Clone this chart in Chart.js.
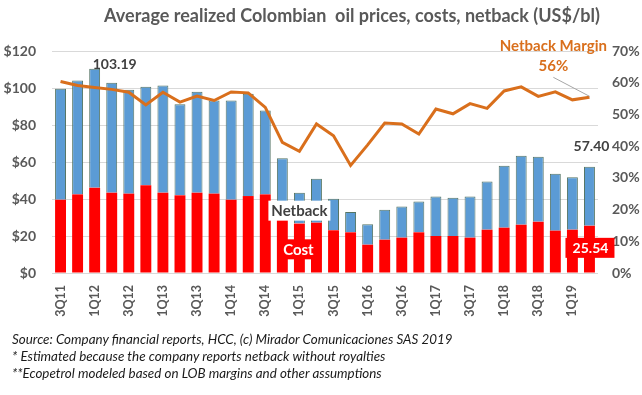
<!DOCTYPE html>
<html>
<head>
<meta charset="utf-8">
<script src="https://cdn.jsdelivr.net/npm/chart.js@4"></script>
<style>
  html, body { margin: 0; padding: 0; background: #fff; }
  #wrap { position: relative; width: 642px; height: 395px; }
  #notes {
    position: absolute; left: 12px; top: 331px;
    font: italic 13.4px Lato, sans-serif; color: #1a1a1a; line-height: 17px;
  }
</style>
</head>
<body>
<div id="wrap">
  <canvas id="chart" width="642" height="395"></canvas>
  <div id="notes">
    Source: Company financial reports, HCC, (c) Mirador Comunicaciones SAS 2019<br>
    * Estimated because the company reports netback without royalties<br>
    **Ecopetrol modeled based on LOB margins and other assumptions
  </div>
</div>
<script>
const quarters = [
  '3Q11', '4Q11', '1Q12', '2Q12', '3Q12', '4Q12', '1Q13', '2Q13',
  '3Q13', '4Q13', '1Q14', '2Q14', '3Q14', '4Q14', '1Q15', '2Q15',
  '3Q15', '4Q15', '1Q16', '2Q16', '3Q16', '4Q16', '1Q17', '2Q17',
  '3Q17', '4Q17', '1Q18', '2Q18', '3Q18', '4Q18', '1Q19', '2Q19'
];
// US$/bl, red part of the bars
const cost = [
  39.6, 42.5, 46.1, 43.4, 42.9, 47.4, 43.4, 42.0,
  43.4, 42.9, 39.6, 41.6, 42.5, 36.5, 26.7, 27.2,
  23.1, 22.0, 15.3, 18.0, 19.1, 22.0, 20.0, 20.0,
  19.1, 23.4, 24.5, 26.1, 27.7, 22.9, 23.4, 25.54
];
// US$/bl, blue part stacked on cost
const netback = [
  60.0, 61.5, 64.3, 59.5, 56.2, 53.3, 57.9, 49.2,
  54.6, 50.4, 53.6, 55.3, 45.4, 25.5, 16.7, 23.8,
  17.1, 11.0, 11.0, 16.2, 16.9, 16.6, 21.4, 20.7,
  22.3, 26.0, 33.5, 37.3, 35.2, 30.8, 28.3, 31.86
];
// % netback margin, right axis
const margin = [
  60.4, 59.1, 58.5, 57.9, 57.0, 53.0, 57.0, 53.9,
  55.8, 54.4, 57.1, 56.8, 52.2, 41.2, 38.4, 47.0,
  43.3, 33.9, 40.4, 47.3, 47.0, 43.8, 51.7, 50.2,
  53.4, 51.9, 57.4, 58.7, 55.7, 57.1, 54.6, 55.4
];
const priceTicks = [0, 20, 40, 60, 80, 100, 120];
const marginTicks = [0, 10, 20, 30, 40, 50, 60, 70];

const FONT = 'Lato, sans-serif';
const GREY = '#595959';
const DARK = '#404040';
const ORANGE = '#D96F1C';
const RED = '#FF0000';

// texts that sit on top of the plot
const labelsPlugin = {
  id: 'labels',
  afterDatasetsDraw(chart) {
    const ctx = chart.ctx;
    const xs = chart.scales.x, ys = chart.scales.y, y1 = chart.scales.y1;
    const last = quarters.length - 1;
    ctx.save();
    ctx.textAlign = 'center';
    ctx.textBaseline = 'middle';

    // title
    ctx.font = 'bold 18px ' + FONT;
    ctx.fillStyle = GREY;
    ctx.fillText('Average realized Colombian  oil prices, costs, netback (US$/bl)', 352, 16);

    // first peak label
    ctx.font = 'bold 14px ' + FONT;
    ctx.fillStyle = DARK;
    ctx.fillText('103.19', xs.getPixelForValue(2) + 20, ys.getPixelForValue(cost[2] + netback[2]) - 4);

    // last price label
    ctx.fillText('57.40', xs.getPixelForValue(last) + 2, ys.getPixelForValue(cost[last] + netback[last]) - 20);

    // last cost label in red box
    let cx = xs.getPixelForValue(last), cy = ys.getPixelForValue(13.6);
    ctx.fillStyle = RED;
    ctx.fillRect(cx - 24, cy - 10, 49, 20);
    ctx.fillStyle = '#fff';
    ctx.fillText('25.54', cx + 1, cy + 1);

    // series names
    cx = xs.getPixelForValue(14);
    cy = ys.getPixelForValue(33.7);
    ctx.fillStyle = '#fff';
    ctx.fillRect(cx - 31, cy - 10, 62, 20);
    ctx.fillStyle = DARK;
    ctx.font = 'bold 15px ' + FONT;
    ctx.fillText('Netback', cx, cy + 1);
    cy = ys.getPixelForValue(12.8);
    ctx.fillStyle = RED;
    ctx.fillRect(cx - 22, cy - 10, 44, 20);
    ctx.fillStyle = '#fff';
    ctx.fillText('Cost', cx - 1, cy + 1);

    // margin label and leader line
    const mx = xs.getPixelForValue(29) - 2;
    ctx.strokeStyle = '#a6a6a6';
    ctx.lineWidth = 1;
    ctx.beginPath();
    ctx.moveTo(mx, y1.getPixelForValue(61.7));
    ctx.lineTo(xs.getPixelForValue(last), y1.getPixelForValue(margin[last]) - 1);
    ctx.stroke();
    ctx.fillStyle = ORANGE;
    ctx.font = 'bold 15px ' + FONT;
    ctx.fillText('Netback Margin', mx, y1.getPixelForValue(71.5));
    ctx.fillText('56%', mx, y1.getPixelForValue(65.1));
    ctx.restore();
  }
};

new Chart(document.getElementById('chart'), {
  data: {
    labels: quarters,
    datasets: [
      {
        type: 'line',
        label: 'Netback Margin',
        data: margin,
        yAxisID: 'y1',
        borderColor: ORANGE,
        borderWidth: 3,
        pointRadius: 0,
        tension: 0,
        order: 0
      },
      {
        type: 'bar',
        label: 'Cost',
        data: cost,
        backgroundColor: RED,
        borderWidth: 0,
        stack: 'p',
        categoryPercentage: 0.8,
        barPercentage: 0.8,
        order: 1
      },
      {
        type: 'bar',
        label: 'Netback',
        data: netback,
        backgroundColor: '#5B9BD5',
        borderColor: '#557565',
        borderWidth: 1,
        stack: 'p',
        categoryPercentage: 0.8,
        barPercentage: 0.8,
        order: 1
      }
    ]
  },
  options: {
    responsive: false,
    animation: false,
    layout: { padding: { top: 51, bottom: 62, left: 0, right: 0 } },
    plugins: {
      legend: { display: false },
      tooltip: { enabled: false }
    },
    scales: {
      x: {
        stacked: true,
        grid: { display: false, drawTicks: false },
        border: { display: false },
        afterFit: (s) => { s.height = 60; },
        ticks: {
          autoSkip: false,
          maxRotation: 90,
          minRotation: 90,
          padding: 12,
          color: GREY,
          font: { family: FONT, size: 12.5, weight: 'bold' },
          callback: (v, i) => (i % 2 === 0 ? quarters[i] : '')
        }
      },
      y: {
        stacked: true,
        position: 'left',
        min: priceTicks[0],
        max: priceTicks[priceTicks.length - 1],
        afterFit: (s) => { s.width = 52; },
        afterBuildTicks: (s) => { s.ticks = priceTicks.map(v => ({ value: v })); },
        grid: { color: '#D9D9D9', drawTicks: false },
        border: { display: false },
        ticks: {
          padding: 16,
          color: GREY,
          font: { family: FONT, size: 14, weight: 'bold' },
          callback: (v) => '$' + v
        }
      },
      y1: {
        position: 'right',
        min: marginTicks[0],
        max: marginTicks[marginTicks.length - 1],
        afterFit: (s) => { s.width = 44; },
        afterBuildTicks: (s) => { s.ticks = marginTicks.map(v => ({ value: v })); },
        grid: { display: false, drawTicks: false },
        border: { display: false },
        ticks: {
          padding: 14,
          color: GREY,
          font: { family: FONT, size: 14, weight: 'bold' },
          callback: (v) => v + '%'
        }
      }
    }
  },
  plugins: [labelsPlugin]
});
</script>
</body>
</html>
